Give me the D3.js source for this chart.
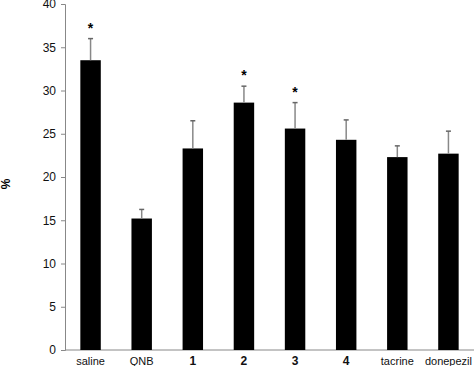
<!DOCTYPE html>
<html><head><meta charset="utf-8">
<script src="https://cdn.jsdelivr.net/npm/d3@7"></script>
<style>body{margin:0;background:#fff}svg{display:block}text{font-family:"Liberation Sans",Arial,sans-serif}</style>
</head><body>
<svg id="c" width="474" height="366"></svg>
<script>
const categories = ["saline","QNB","1","2","3","4","tacrine","donepezil"];
const boldLabels = [false,false,true,true,true,true,false,false];
const values = [33.5,15.2,23.3,28.6,25.6,24.3,22.3,22.7];
const errors = [2.5,1.05,3.2,1.9,3.0,2.3,1.3,2.6];
const significant = [true,false,false,true,true,false,false,false];
const yTicks = [0,5,10,15,20,25,30,35,40];

const svg = d3.select("#c");
const x = d3.scaleBand().domain(categories).range([65,474]).paddingInner(0.6).paddingOuter(0.3);
const y = d3.scaleLinear().domain([0,40]).range([350,4]);

// y axis
const ya = svg.append("g").attr("transform","translate(65,0)")
  .call(d3.axisLeft(y).tickValues(yTicks).tickSize(4).tickPadding(5));
ya.select(".domain").attr("stroke","#888");
ya.selectAll(".tick line").attr("stroke","#888");
ya.selectAll(".tick text").attr("font-size",12).attr("fill","#111").style("font-family","Liberation Sans, Arial, sans-serif");

// x axis line
svg.append("line").attr("x1",65).attr("x2",474).attr("y1",y(0)).attr("y2",y(0)).attr("stroke","#888");

// bars
svg.selectAll("rect.bar").data(categories).join("rect")
  .attr("x",d=>x(d)).attr("width",x.bandwidth())
  .attr("y",(d,i)=>y(values[i])).attr("height",(d,i)=>y(0)-y(values[i]))
  .attr("fill","#000");

// error bars
const eb = svg.append("g");
categories.forEach((d,i)=>{
  const cx = x(d)+x.bandwidth()/2;
  eb.append("line").attr("x1",cx).attr("x2",cx).attr("y1",y(values[i])).attr("y2",y(values[i]+errors[i])).attr("stroke","#888").attr("stroke-width",1.5);
  eb.append("line").attr("x1",cx-2.5).attr("x2",cx+2.5).attr("y1",y(values[i]+errors[i])).attr("y2",y(values[i]+errors[i])).attr("stroke","#666").attr("stroke-width",1.5);
  if (significant[i]) {
    svg.append("text").attr("x",cx).attr("y",y(values[i]+errors[i])-6).attr("text-anchor","middle")
      .attr("font-size",14).attr("font-weight","bold").text("*");
  }
  svg.append("text").attr("x",cx).attr("y",365).attr("text-anchor","middle")
    .attr("font-size",boldLabels[i]?12:11).attr("font-weight",boldLabels[i]?"bold":"normal")
    .attr("fill","#111").text(d);
});

// y label
svg.append("text").attr("transform","translate(10,184) rotate(-90)").attr("text-anchor","middle")
  .attr("font-size",12).attr("font-weight","bold").text("%");
</script>
</body></html>
